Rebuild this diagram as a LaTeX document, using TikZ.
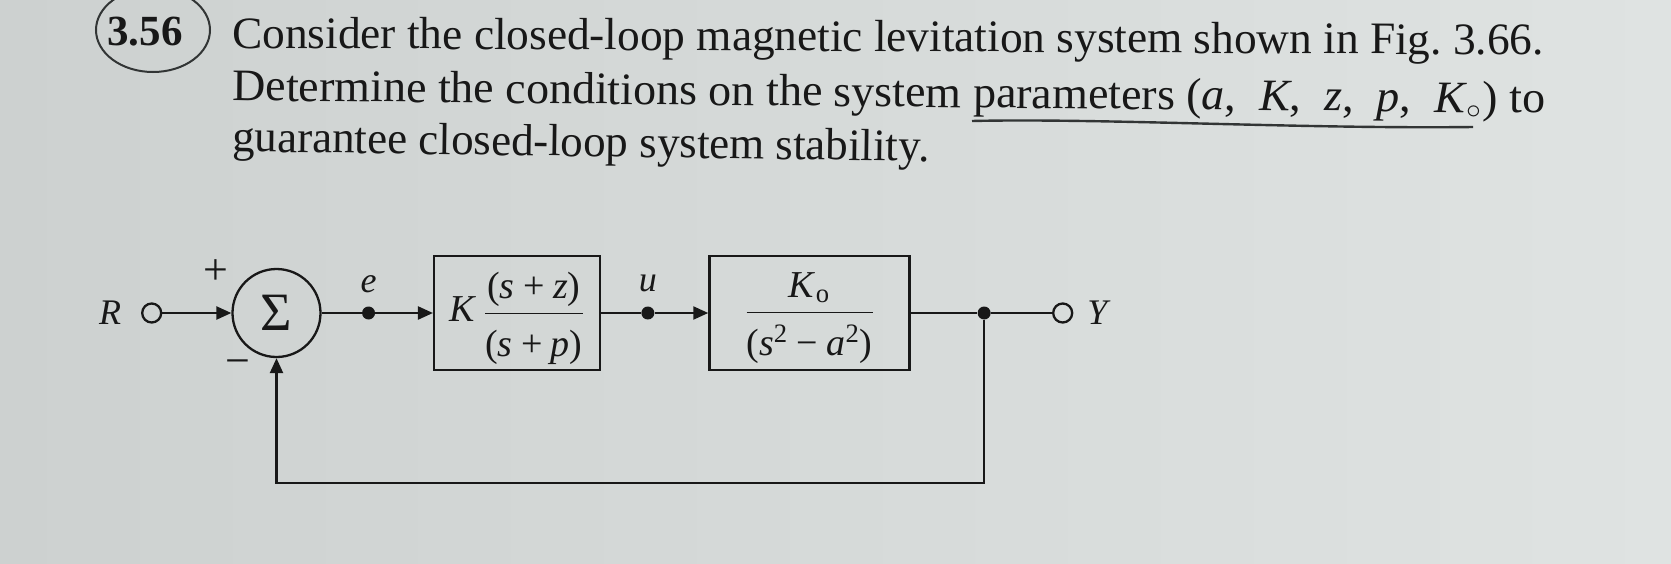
\documentclass[tikz,border=0pt]{standalone}
\usepackage{amsmath}
\usepackage{fontspec}
\setmainfont{Liberation Serif}
\usetikzlibrary{positioning,arrows.meta}
\definecolor{paperL}{RGB}{205,209,208}
\definecolor{paperR}{RGB}{223,227,226}
\definecolor{ink}{RGB}{24,24,24}
\definecolor{pen}{RGB}{50,53,53}
\newcommand{\vi}[1]{\textit{#1}}
\newcommand{\denstrut}{\rule{0pt}{19pt}}
\newcommand{\lowered}[1]{\raisebox{-2.6pt}[\height][\depth]{#1}}

\begin{document}
\begin{tikzpicture}[x=0.5pt,y=-0.5pt,
  every node/.style={text=ink},
  wire/.style={draw=ink,line width=1.15pt},
  arr/.style={wire,-{Triangle[length=7.5pt,width=6.5pt]}},
  block/.style={draw=ink,line width=1.25pt,minimum height=57pt,inner sep=0pt,font=\fontsize{19}{22}\selectfont},
  junc/.style={circle,fill=ink,inner sep=0pt,minimum size=6.5pt},
  term/.style={circle,draw=ink,line width=1.15pt,inner sep=0pt,minimum size=9.5pt},
  sig/.style={inner sep=0pt,font=\fontsize{18}{20}\selectfont},
  sgn/.style={inner sep=0pt,font=\fontsize{22}{22}\selectfont},
  para/.style={anchor=base west,inner sep=0pt,font=\fontsize{22.5}{27}\selectfont}]

  % paper
  \shade[left color=paperL,right color=paperR] (0,0) rectangle (1671,563);
  \useasboundingbox (0,0) rectangle (1671,563);

  % problem text
  \node[para,font=\fontsize{21.5}{26}\selectfont\bfseries] (num) at (107,45) {3.56};
  \draw[pen,line width=1pt] (153,30) ellipse [x radius=57,y radius=42];
  \node[para,transform shape,rotate=-0.3,xscale=1.007] (l1) at (232,48) {Consider the closed-loop magnetic levitation system shown in Fig.~3.66.};
  \node[para,transform shape,rotate=-0.55,xscale=1.022] (l2) at (232,100.5) {Determine the conditions on the system parameters (\vi{a}, \ \vi{K}, \ \vi{z}, \ \vi{p}, \ \vi{K}$_\circ$) to};
  \node[para,rotate=-0.8] (l3) at (232,151.5) {guarantee closed-loop system stability.};
  \draw[pen,line width=1.2pt] (972,121) .. controls (1100,118) and (1300,129) .. (1473,127);

  % block diagram
  \node[circle,draw=ink,line width=1.15pt,minimum size=44pt,inner sep=0pt,font=\fontsize{27}{27}\selectfont] (sum) at (276.5,313) {\raisebox{-1.5pt}{Σ}};
  \node[term,left=34.5pt of sum] (rin) {};
  \node[sig,left=9.75pt of rin] (rlab) {\vi{R}};
  \node[junc,right=20pt of sum] (edot) {};
  \node[sig,above=6.5pt of edot] (elab) {\vi{e}};
  \node[block,minimum width=83pt,right=28.75pt of edot] (ctrl) {\lowered{\vi{K}\,$\dfrac{\text{(\vi{s}\:+\:\vi{z})}}{\text{\denstrut(\vi{s}\:+\:\vi{p})}}$}};
  \node[junc,right=19.75pt of ctrl] (udot) {};
  \node[sig,above=7pt of udot] (ulab) {\vi{u}};
  \node[block,minimum width=100pt,right=26.75pt of udot] (plant) {\lowered{$\dfrac{\text{\vi{K}\textsubscript{o}}}{\text{\denstrut(\vi{s}\textsuperscript{2}\:−\:\vi{a}\textsuperscript{2})}}$}};
  \node[junc,right=33.25pt of plant] (bdot) {};
  \node[term,right=30.5pt of bdot] (yout) {};
  \node[sig,right=6.75pt of yout] (ylab) {\vi{Y}};
  \node[sgn] (plus) at (216,272) {+};
  \node[sgn] (minus) at (238,368) {−};
  \coordinate (low) at (0,483);

  \draw[arr] (rin) -- (sum);
  \draw[wire] (sum) -- (edot);
  \draw[arr] (edot) -- (ctrl);
  \draw[wire] (ctrl) -- (udot);
  \draw[arr] (udot) -- (plant);
  \draw[wire] (plant) -- (bdot);
  \draw[wire] (bdot) -- (yout);
  \draw[arr] (bdot) -- (bdot |- low) -| (sum.south);
\end{tikzpicture}
\end{document}
